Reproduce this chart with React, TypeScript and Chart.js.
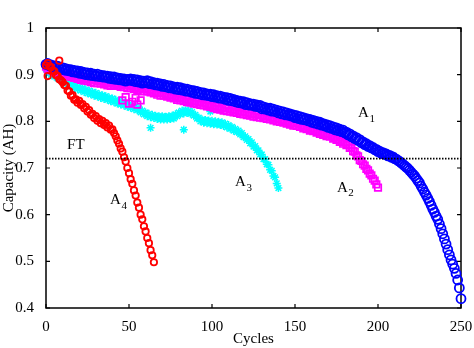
import React, { useEffect, useRef } from "react";
import { Chart, registerables } from "chart.js";

Chart.register(...registerables);

// ---------- data (index = cycle number) ----------
const a1Capacity = [
  0.922, 0.924, 0.919, 0.921, 0.916, 0.919, 0.915, 0.918, 0.913, 0.916,
  0.911, 0.914, 0.909, 0.912, 0.908, 0.911, 0.906, 0.909, 0.905, 0.908,
  0.903, 0.907, 0.902, 0.905, 0.900, 0.904, 0.899, 0.903, 0.898, 0.901,
  0.897, 0.901, 0.896, 0.899, 0.895, 0.898, 0.894, 0.897, 0.892, 0.896,
  0.891, 0.895, 0.890, 0.893, 0.889, 0.892, 0.888, 0.891, 0.886, 0.890,
  0.888, 0.891, 0.887, 0.890, 0.885, 0.889, 0.884, 0.887, 0.882, 0.886,
  0.883, 0.887, 0.881, 0.885, 0.880, 0.883, 0.878, 0.882, 0.877, 0.880,
  0.875, 0.879, 0.874, 0.877, 0.872, 0.876, 0.871, 0.874, 0.869, 0.873,
  0.868, 0.872, 0.867, 0.870, 0.865, 0.869, 0.864, 0.867, 0.862, 0.866,
  0.860, 0.864, 0.859, 0.862, 0.857, 0.861, 0.856, 0.859, 0.855, 0.858,
  0.853, 0.857, 0.852, 0.855, 0.850, 0.854, 0.849, 0.852, 0.847, 0.851,
  0.845, 0.849, 0.844, 0.847, 0.842, 0.845, 0.840, 0.843, 0.839, 0.842,
  0.836, 0.840, 0.835, 0.838, 0.834, 0.837, 0.832, 0.835, 0.831, 0.834,
  0.827, 0.831, 0.826, 0.829, 0.824, 0.828, 0.822, 0.826, 0.821, 0.824,
  0.818, 0.822, 0.816, 0.820, 0.814, 0.818, 0.813, 0.816, 0.811, 0.814,
  0.808, 0.812, 0.806, 0.810, 0.804, 0.808, 0.803, 0.806, 0.801, 0.804,
  0.798, 0.802, 0.796, 0.800, 0.794, 0.798, 0.792, 0.795, 0.790, 0.793,
  0.787, 0.791, 0.785, 0.788, 0.782, 0.786, 0.780, 0.783, 0.778, 0.781,
  0.775, 0.777, 0.771, 0.773, 0.767, 0.769, 0.763, 0.765, 0.759, 0.761,
  0.754, 0.756, 0.750, 0.752, 0.746, 0.748, 0.743, 0.744, 0.739, 0.740,
  0.735, 0.736, 0.731, 0.733, 0.729, 0.730, 0.726, 0.727, 0.723, 0.724,
  0.720, 0.719, 0.716, 0.714, 0.711, 0.708, 0.705, 0.702, 0.699, 0.695,
  0.691, 0.687, 0.683, 0.678, 0.673, 0.668, 0.661, 0.655, 0.648, 0.642,
  0.635, 0.628, 0.620, 0.612, 0.605, 0.597, 0.590, 0.580, 0.570, 0.559,
  0.548, 0.537, 0.525, 0.514, 0.503, 0.494, 0.485, 0.474, 0.460, 0.443,
  0.420,
];

const a2Capacity = [
  0.917, 0.912, 0.915, 0.909, 0.912, 0.906, 0.910, 0.904, 0.908, 0.902,
  0.905, 0.899, 0.903, 0.897, 0.901, 0.895, 0.899, 0.893, 0.897, 0.891,
  0.895, 0.889, 0.893, 0.887, 0.891, 0.886, 0.890, 0.884, 0.888, 0.882,
  0.888, 0.882, 0.886, 0.881, 0.885, 0.879, 0.883, 0.877, 0.881, 0.876,
  0.883, 0.877, 0.881, 0.876, 0.880, 0.874, 0.878, 0.873, 0.877, 0.871,
  0.877, 0.871, 0.875, 0.869, 0.873, 0.867, 0.871, 0.865, 0.869, 0.864,
  0.870, 0.864, 0.868, 0.862, 0.866, 0.860, 0.863, 0.857, 0.861, 0.855,
  0.861, 0.855, 0.859, 0.853, 0.857, 0.851, 0.855, 0.849, 0.853, 0.846,
  0.851, 0.845, 0.849, 0.843, 0.847, 0.841, 0.846, 0.840, 0.844, 0.838,
  0.843, 0.837, 0.841, 0.835, 0.840, 0.834, 0.838, 0.832, 0.837, 0.831,
  0.834, 0.828, 0.832, 0.826, 0.831, 0.825, 0.829, 0.823, 0.828, 0.822,
  0.827, 0.821, 0.825, 0.819, 0.824, 0.818, 0.822, 0.816, 0.821, 0.815,
  0.819, 0.813, 0.818, 0.812, 0.816, 0.810, 0.815, 0.809, 0.814, 0.808,
  0.813, 0.807, 0.811, 0.805, 0.810, 0.804, 0.808, 0.802, 0.806, 0.800,
  0.805, 0.799, 0.803, 0.797, 0.801, 0.795, 0.799, 0.793, 0.797, 0.791,
  0.796, 0.790, 0.794, 0.788, 0.791, 0.785, 0.789, 0.783, 0.786, 0.780,
  0.785, 0.779, 0.782, 0.776, 0.779, 0.773, 0.777, 0.771, 0.774, 0.768,
  0.772, 0.767, 0.769, 0.763, 0.766, 0.760, 0.762, 0.756, 0.758, 0.752,
  0.755, 0.749, 0.750, 0.743, 0.743, 0.736, 0.735, 0.727, 0.725, 0.717,
  0.715, 0.708, 0.705, 0.698, 0.695, 0.688, 0.684, 0.677, 0.673, 0.665,
  0.658,
];
const a2OutlierCycles = [46, 48, 50, 52, 54, 55, 57, 58];
const a2OutlierCapacity = [0.845, 0.852, 0.838, 0.842, 0.850, 0.836, 0.845, 0.876];

const a3Capacity = [
  0.912, 0.906, 0.907, 0.900, 0.903, 0.896, 0.899, 0.892, 0.896, 0.888,
  0.892, 0.884, 0.887, 0.880, 0.884, 0.876, 0.880, 0.872, 0.877, 0.869,
  0.874, 0.866, 0.871, 0.863, 0.868, 0.860, 0.866, 0.858, 0.863, 0.855,
  0.861, 0.853, 0.858, 0.850, 0.856, 0.848, 0.854, 0.846, 0.851, 0.843,
  0.849, 0.841, 0.846, 0.838, 0.844, 0.836, 0.842, 0.834, 0.839, 0.831,
  0.837, 0.829, 0.834, 0.826, 0.832, 0.824, 0.828, 0.819, 0.823, 0.815,
  0.819, 0.811, 0.816, 0.809, 0.814, 0.807, 0.812, 0.805, 0.811, 0.804,
  0.811, 0.804, 0.810, 0.804, 0.811, 0.805, 0.812, 0.806, 0.815, 0.811,
  0.819, 0.815, 0.823, 0.817, 0.824, 0.818, 0.823, 0.816, 0.820, 0.812,
  0.814, 0.806, 0.808, 0.800, 0.804, 0.797, 0.803, 0.796, 0.802, 0.795,
  0.801, 0.794, 0.800, 0.793, 0.799, 0.792, 0.798, 0.790, 0.795, 0.787,
  0.792, 0.784, 0.788, 0.780, 0.784, 0.777, 0.780, 0.772, 0.775, 0.766,
  0.768, 0.760, 0.762, 0.753, 0.755, 0.746, 0.747, 0.738, 0.738, 0.729,
  0.729, 0.719, 0.719, 0.708, 0.707, 0.696, 0.694, 0.683, 0.680, 0.667,
  0.657,
];
const a3OutlierCycles = [63, 83, 99];
const a3OutlierCapacity = [0.786, 0.782, 0.821];

const a4Capacity = [
  0.920, 0.925, 0.918, 0.916, 0.909, 0.907, 0.899, 0.897, 0.890, 0.888,
  0.884, 0.878, 0.876, 0.866, 0.864, 0.855, 0.856, 0.846, 0.847, 0.840,
  0.844, 0.835, 0.837, 0.828, 0.831, 0.821, 0.824, 0.814, 0.816, 0.807,
  0.811, 0.801, 0.805, 0.796, 0.801, 0.792, 0.796, 0.787, 0.791, 0.782,
  0.783, 0.775, 0.768, 0.759, 0.752, 0.742, 0.735, 0.723, 0.714, 0.700,
  0.689, 0.676, 0.666, 0.652, 0.641, 0.626, 0.615, 0.600, 0.590, 0.575,
  0.564, 0.550, 0.539, 0.524, 0.513, 0.498,
];
const a4OutlierCycles = [1, 8];
const a4OutlierCapacity = [0.897, 0.930];

const ftLevel = 0.72;
const xTickValues = [0, 50, 100, 150, 200, 250];
const yTickValues = [0.4, 0.5, 0.6, 0.7, 0.8, 0.9, 1];

const annotations = [
  { text: "A", sub: "1", x: 188, y: 0.818 },
  { text: "A", sub: "2", x: 175.3, y: 0.658 },
  { text: "A", sub: "3", x: 113.9, y: 0.67 },
  { text: "A", sub: "4", x: 38.6, y: 0.631 },
  { text: "FT", sub: "", x: 12.7, y: 0.749 },
];

const FONT = '"Liberation Serif", "Times New Roman", serif';

const byCycle = (ys: number[]) => ys.map((y, cycle) => ({ x: cycle, y }));
const toPoints = (xs: number[], ys: number[]) => xs.map((x, i) => ({ x, y: ys[i] }));

const framePlugin = {
  id: "frame",
  beforeDatasetsDraw(chart: any) {
    const { ctx, chartArea } = chart;
    const { left, right, top, bottom } = chartArea;
    const xs = chart.scales.x;
    const ys = chart.scales.y;
    ctx.save();
    ctx.strokeStyle = "#000";
    ctx.lineWidth = 1.5;
    ctx.strokeRect(left, top, right - left, bottom - top);
    ctx.lineWidth = 1.2;
    ctx.beginPath();
    for (const v of xTickValues) {
      const px = xs.getPixelForValue(v);
      ctx.moveTo(px, bottom);
      ctx.lineTo(px, bottom - 4);
      ctx.moveTo(px, top);
      ctx.lineTo(px, top + 4);
    }
    for (const v of yTickValues) {
      const py = ys.getPixelForValue(v);
      ctx.moveTo(left, py);
      ctx.lineTo(left + 4, py);
      ctx.moveTo(right, py);
      ctx.lineTo(right - 4, py);
    }
    ctx.stroke();
    ctx.restore();
  },
  afterDatasetsDraw(chart: any) {
    const { ctx } = chart;
    const xs = chart.scales.x;
    const ys = chart.scales.y;
    ctx.save();
    ctx.fillStyle = "#000";
    ctx.textBaseline = "middle";
    ctx.textAlign = "left";
    for (const a of annotations) {
      const px = xs.getPixelForValue(a.x);
      const py = ys.getPixelForValue(a.y);
      ctx.font = `15px ${FONT}`;
      ctx.fillText(a.text, px, py);
      const w = ctx.measureText(a.text).width;
      if (a.sub) {
        ctx.font = `11px ${FONT}`;
        ctx.fillText(a.sub, px + w + 0.5, py + 6);
      }
    }
    ctx.restore();
  },
};

export default function App() {
  const canvasRef = useRef<HTMLCanvasElement | null>(null);

  useEffect(() => {
    if (!canvasRef.current) return;
    Chart.defaults.color = "#000";
    const chart = new Chart(canvasRef.current, {
      type: "scatter",
      data: {
        datasets: [
          {
            label: "FT",
            data: [
              { x: 0, y: ftLevel },
              { x: 250, y: ftLevel },
            ],
            showLine: true,
            borderColor: "#000",
            borderWidth: 1.6,
            borderDash: [1.5, 1.5],
            pointRadius: 0,
          },
          {
            label: "A4",
            data: [...byCycle(a4Capacity), ...toPoints(a4OutlierCycles, a4OutlierCapacity)],
            pointStyle: "circle",
            pointRadius: 3.2,
            pointBorderWidth: 1.8,
            borderColor: "#ff0000",
            backgroundColor: "rgba(0,0,0,0)",
            clip: false,
          },
          {
            label: "A1",
            data: byCycle(a1Capacity),
            pointStyle: "circle",
            pointRadius: 4.5,
            pointBorderWidth: 1.8,
            borderColor: "#0000ff",
            backgroundColor: "rgba(0,0,0,0)",
            clip: false,
          },
          {
            label: "A2",
            data: [...byCycle(a2Capacity), ...toPoints(a2OutlierCycles, a2OutlierCapacity)],
            pointStyle: "rect",
            pointRadius: 4.6,
            pointBorderWidth: 1.7,
            borderColor: "#ff00ff",
            backgroundColor: "rgba(0,0,0,0)",
            clip: false,
          },
          {
            label: "A3",
            data: [...byCycle(a3Capacity), ...toPoints(a3OutlierCycles, a3OutlierCapacity)],
            pointStyle: "star",
            pointRadius: 4,
            pointBorderWidth: 1.5,
            borderColor: "#00ffff",
            backgroundColor: "rgba(0,0,0,0)",
            clip: false,
          },
        ],
      },
      options: {
        responsive: false,
        animation: false,
        devicePixelRatio: 1,
        layout: { padding: { top: 28, right: 13, left: 0, bottom: 0 } },
        plugins: { legend: { display: false }, tooltip: { enabled: false } },
        scales: {
          x: {
            type: "linear",
            min: 0,
            max: 250,
            grid: { display: false },
            border: { display: false },
            ticks: {
              stepSize: 50,
              padding: 2,
              font: { family: FONT, size: 15 },
              color: "#000",
            },
            title: {
              display: true,
              text: "Cycles",
              font: { family: FONT, size: 15 },
              color: "#000",
              padding: { top: 0, bottom: 0 },
            },
            afterFit: (s: any) => {
              s.height = 40;
              s.paddingLeft = 0;
              s.paddingRight = 0;
            },
          },
          y: {
            type: "linear",
            min: 0.4,
            max: 1,
            grid: { display: false },
            border: { display: false },
            ticks: {
              stepSize: 0.1,
              padding: 4,
              font: { family: FONT, size: 15 },
              color: "#000",
              callback: (v: any) => String(Number(Number(v).toFixed(1))),
            },
            title: {
              display: true,
              text: "Capacity (AH)",
              font: { family: FONT, size: 15 },
              color: "#000",
              padding: { top: 0, bottom: 0 },
            },
            afterFit: (s: any) => {
              s.width = 46;
              s.paddingTop = 0;
              s.paddingBottom = 0;
            },
          },
        },
      },
      plugins: [framePlugin],
    } as any);
    return () => chart.destroy();
  }, []);

  return (
    <div style={{ position: "absolute", left: 0, top: 0, width: 474, height: 348, background: "#fff" }}>
      <canvas ref={canvasRef} width={474} height={348} style={{ display: "block" }} />
    </div>
  );
}
